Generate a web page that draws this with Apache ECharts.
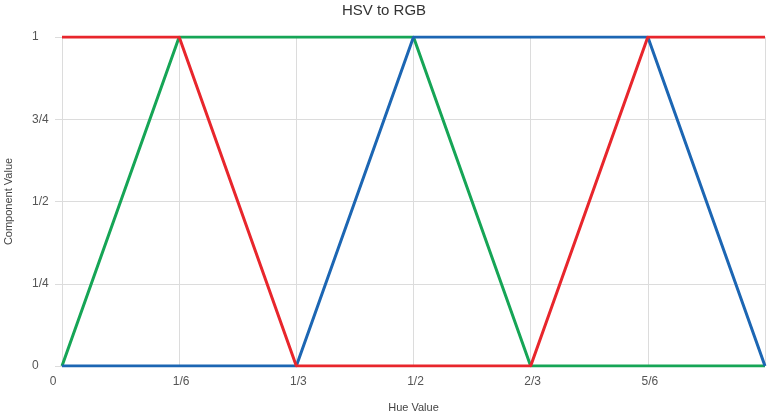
<!DOCTYPE html>
<html><head><meta charset="utf-8">
<script src="https://cdn.jsdelivr.net/npm/echarts@6/dist/echarts.min.js"></script>
<style>html,body{margin:0;padding:0;background:#fff}#c{width:768px;height:412px}</style>
</head><body><div id="c"></div>
<script>
const hueLabels = ["0", "1/6", "1/3", "1/2", "2/3", "5/6", "1"];
const redValues = [1, 1, 0, 0, 0, 1, 1];
const greenValues = [0, 1, 1, 1, 0, 0, 0];
const blueValues = [0, 0, 0, 1, 1, 1, 0];
const yTickLabels = {"0": "0", "0.25": "1/4", "0.5": "1/2", "0.75": "3/4", "1": "1"};

const chart = echarts.init(document.getElementById('c'));
const font = 'Liberation Sans, Arial, sans-serif';
chart.setOption({
  animation: false,
  title: {text: 'HSV to RGB', left: 'center', top: -2,
    textStyle: {fontFamily: font, fontSize: 15, fontWeight: 'normal', color: '#333'}},
  grid: {left: 62, right: 3, top: 37, bottom: 46, containLabel: false, outerBoundsMode: 'none'},
  xAxis: {
    type: 'category', data: hueLabels, boundaryGap: false,
    name: 'Hue Value', nameLocation: 'middle', nameGap: 36,
    nameTextStyle: {fontFamily: font, fontSize: 11, color: '#444'},
    axisLine: {show: false}, axisTick: {show: false},
    axisLabel: {fontFamily: font, fontSize: 12, color: '#555', margin: 10,
      formatter: function (v, i) {
        if (i === hueLabels.length - 1) return '';
        if (i === 0) return '{z|' + v + '}';
        return '{n|' + v + '}';
      },
      rich: {
        z: {fontFamily: font, fontSize: 12, color: '#555', padding: [0, 18, 0, 0]},
        n: {fontFamily: font, fontSize: 12, color: '#555', padding: [0, 0, 0, 4]}
      }},
    splitLine: {show: true, lineStyle: {color: '#dcdcdc', width: 1}}
  },
  yAxis: {
    type: 'value', min: 0, max: 1, interval: 0.25,
    name: 'Component Value', nameLocation: 'middle', nameGap: 48,
    nameTextStyle: {fontFamily: font, fontSize: 11, color: '#444'},
    axisLine: {show: false},
    axisTick: {show: true, length: 7, lineStyle: {color: '#dcdcdc'}},
    axisLabel: {fontFamily: font, fontSize: 12, color: '#555', margin: 30, align: 'left',
      formatter: function (v) { return yTickLabels[String(v)] || ''; }},
    splitLine: {show: true, lineStyle: {color: '#dcdcdc', width: 1}}
  },
  series: [
    {name: 'G', type: 'line', data: greenValues, symbol: 'none',
      lineStyle: {color: '#16a556', width: 3}, itemStyle: {color: '#16a556'}},
    {name: 'B', type: 'line', data: blueValues, symbol: 'none',
      lineStyle: {color: '#1c66b3', width: 3}, itemStyle: {color: '#1c66b3'}},
    {name: 'R', type: 'line', data: redValues, symbol: 'none',
      lineStyle: {color: '#e8262c', width: 3}, itemStyle: {color: '#e8262c'}}
  ]
});
</script></body></html>
